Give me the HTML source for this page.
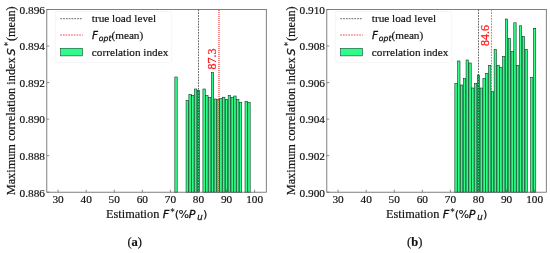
<!DOCTYPE html>
<html lang="en">
<head>
<meta charset="utf-8">
<title>Maximum correlation index vs estimation</title>
<style>
html,body{margin:0;padding:0;background:#fff;}
body{width:550px;height:253px;overflow:hidden;font-family:"Liberation Serif",serif;}
svg{display:block;}
svg text{stroke:#111;stroke-width:.18px;}
svg text.ann{stroke:#ff1a1a;stroke-width:.25px;}
</style>
</head>
<body>
<svg width="550" height="253" viewBox="0 0 550 253">
<rect x="0" y="0" width="550" height="253" fill="#fff"/>
<g>
<rect x="174.84" y="77.00" width="2.36" height="115.20" fill="#30fc8c" stroke="#002a10" stroke-width="0.55"/>
<rect x="186.06" y="100.50" width="2.36" height="91.70" fill="#30fc8c" stroke="#002a10" stroke-width="0.55"/>
<rect x="188.87" y="94.50" width="2.36" height="97.70" fill="#30fc8c" stroke="#002a10" stroke-width="0.55"/>
<rect x="191.68" y="95.50" width="2.36" height="96.70" fill="#30fc8c" stroke="#002a10" stroke-width="0.55"/>
<rect x="194.48" y="89.00" width="2.36" height="103.20" fill="#30fc8c" stroke="#002a10" stroke-width="0.55"/>
<rect x="197.29" y="90.50" width="2.36" height="101.70" fill="#30fc8c" stroke="#002a10" stroke-width="0.55"/>
<rect x="202.91" y="89.00" width="2.36" height="103.20" fill="#30fc8c" stroke="#002a10" stroke-width="0.55"/>
<rect x="205.71" y="95.50" width="2.36" height="96.70" fill="#30fc8c" stroke="#002a10" stroke-width="0.55"/>
<rect x="208.52" y="97.50" width="2.36" height="94.70" fill="#30fc8c" stroke="#002a10" stroke-width="0.55"/>
<rect x="211.33" y="72.50" width="2.36" height="119.70" fill="#30fc8c" stroke="#002a10" stroke-width="0.55"/>
<rect x="214.13" y="99.00" width="2.36" height="93.20" fill="#30fc8c" stroke="#002a10" stroke-width="0.55"/>
<rect x="216.94" y="99.50" width="2.36" height="92.70" fill="#30fc8c" stroke="#002a10" stroke-width="0.55"/>
<rect x="219.75" y="98.50" width="2.36" height="93.70" fill="#30fc8c" stroke="#002a10" stroke-width="0.55"/>
<rect x="222.55" y="97.20" width="2.36" height="95.00" fill="#30fc8c" stroke="#002a10" stroke-width="0.55"/>
<rect x="225.36" y="99.50" width="2.36" height="92.70" fill="#30fc8c" stroke="#002a10" stroke-width="0.55"/>
<rect x="228.17" y="95.50" width="2.36" height="96.70" fill="#30fc8c" stroke="#002a10" stroke-width="0.55"/>
<rect x="230.98" y="97.50" width="2.36" height="94.70" fill="#30fc8c" stroke="#002a10" stroke-width="0.55"/>
<rect x="233.78" y="96.00" width="2.36" height="96.20" fill="#30fc8c" stroke="#002a10" stroke-width="0.55"/>
<rect x="236.59" y="99.50" width="2.36" height="92.70" fill="#30fc8c" stroke="#002a10" stroke-width="0.55"/>
<rect x="239.40" y="102.50" width="2.36" height="89.70" fill="#30fc8c" stroke="#002a10" stroke-width="0.55"/>
<rect x="245.01" y="101.50" width="2.36" height="90.70" fill="#30fc8c" stroke="#002a10" stroke-width="0.55"/>
<rect x="247.82" y="102.50" width="2.36" height="89.70" fill="#30fc8c" stroke="#002a10" stroke-width="0.55"/>
<line x1="198.47" y1="9.5" x2="198.47" y2="192.2" stroke="#111" stroke-width="0.65" stroke-dasharray="1.75 1.05"/>
<line x1="219.00" y1="10" x2="219.00" y2="192.2" stroke="#f01010" stroke-width="1.0" stroke-dasharray="1 1"/>
<text transform="translate(216.40,69.50) rotate(-90)" class="ann" font-family='"Liberation Serif", serif' font-size="12" fill="#ff1a1a">87.3</text>
<rect x="46.80" y="9.5" width="219.50" height="182.70" fill="none" stroke="#606060" stroke-width="0.8"/>
<line x1="58.12" y1="192.2" x2="58.12" y2="189.7" stroke="#606060" stroke-width="0.7"/>
<text x="58.12" y="202.6" text-anchor="middle" font-family='"Liberation Serif", serif' font-size="11.3" fill="#111">30</text>
<line x1="86.19" y1="192.2" x2="86.19" y2="189.7" stroke="#606060" stroke-width="0.7"/>
<text x="86.19" y="202.6" text-anchor="middle" font-family='"Liberation Serif", serif' font-size="11.3" fill="#111">40</text>
<line x1="114.26" y1="192.2" x2="114.26" y2="189.7" stroke="#606060" stroke-width="0.7"/>
<text x="114.26" y="202.6" text-anchor="middle" font-family='"Liberation Serif", serif' font-size="11.3" fill="#111">50</text>
<line x1="142.33" y1="192.2" x2="142.33" y2="189.7" stroke="#606060" stroke-width="0.7"/>
<text x="142.33" y="202.6" text-anchor="middle" font-family='"Liberation Serif", serif' font-size="11.3" fill="#111">60</text>
<line x1="170.40" y1="192.2" x2="170.40" y2="189.7" stroke="#606060" stroke-width="0.7"/>
<text x="170.40" y="202.6" text-anchor="middle" font-family='"Liberation Serif", serif' font-size="11.3" fill="#111">70</text>
<line x1="198.47" y1="192.2" x2="198.47" y2="189.7" stroke="#606060" stroke-width="0.7"/>
<text x="198.47" y="202.6" text-anchor="middle" font-family='"Liberation Serif", serif' font-size="11.3" fill="#111">80</text>
<line x1="226.54" y1="192.2" x2="226.54" y2="189.7" stroke="#606060" stroke-width="0.7"/>
<text x="226.54" y="202.6" text-anchor="middle" font-family='"Liberation Serif", serif' font-size="11.3" fill="#111">90</text>
<line x1="254.61" y1="192.2" x2="254.61" y2="189.7" stroke="#606060" stroke-width="0.7"/>
<text x="254.61" y="202.6" text-anchor="middle" font-family='"Liberation Serif", serif' font-size="11.3" fill="#111">100</text>
<line x1="46.80" y1="192.20" x2="49.30" y2="192.20" stroke="#606060" stroke-width="0.7"/>
<text x="45.00" y="196.50" text-anchor="end" font-family='"Liberation Serif", serif' font-size="11.3" fill="#111">0.886</text>
<line x1="46.80" y1="155.66" x2="49.30" y2="155.66" stroke="#606060" stroke-width="0.7"/>
<text x="45.00" y="159.96" text-anchor="end" font-family='"Liberation Serif", serif' font-size="11.3" fill="#111">0.888</text>
<line x1="46.80" y1="119.12" x2="49.30" y2="119.12" stroke="#606060" stroke-width="0.7"/>
<text x="45.00" y="123.42" text-anchor="end" font-family='"Liberation Serif", serif' font-size="11.3" fill="#111">0.890</text>
<line x1="46.80" y1="82.58" x2="49.30" y2="82.58" stroke="#606060" stroke-width="0.7"/>
<text x="45.00" y="86.88" text-anchor="end" font-family='"Liberation Serif", serif' font-size="11.3" fill="#111">0.892</text>
<line x1="46.80" y1="46.04" x2="49.30" y2="46.04" stroke="#606060" stroke-width="0.7"/>
<text x="45.00" y="50.34" text-anchor="end" font-family='"Liberation Serif", serif' font-size="11.3" fill="#111">0.894</text>
<line x1="46.80" y1="9.50" x2="49.30" y2="9.50" stroke="#606060" stroke-width="0.7"/>
<text x="45.00" y="13.80" text-anchor="end" font-family='"Liberation Serif", serif' font-size="11.3" fill="#111">0.896</text>
<rect x="55.30" y="11.5" width="116.4" height="51.1" rx="1.5" fill="#fff" fill-opacity="0.8" stroke="#f0f0f0" stroke-width="0.7"/>
<line x1="60.30" y1="18.7" x2="82.70" y2="18.7" stroke="#111" stroke-width="0.65" stroke-dasharray="1.75 1.05"/>
<line x1="60.30" y1="35" x2="82.70" y2="35" stroke="#f01010" stroke-width="0.8" stroke-dasharray="1.6 1.1"/>
<rect x="60.50" y="48.3" width="22.1" height="7.6" fill="#30fc8c" stroke="#002a10" stroke-width="0.5"/>
<text x="91.80" y="22.0" font-family='"Liberation Serif", serif' font-size="11.25" fill="#111">true load level</text>
<text y="38.9" font-family='"Liberation Serif", serif' font-size="11.25" fill="#111"><tspan x="92.00" font-family='"DejaVu Sans", "Liberation Sans", sans-serif' font-style="italic" stroke="#111" stroke-width="0.3" font-size="10.4">F</tspan><tspan x="98.80" font-family='"DejaVu Sans", "Liberation Sans", sans-serif' font-style="italic" stroke="#111" stroke-width="0.3" stroke-width="0.2" font-size="7.7" dy="2">opt</tspan><tspan x="111.40" dy="-2">(mean)</tspan></text>
<text x="91.80" y="55.8" font-family='"Liberation Serif", serif' font-size="11.25" fill="#111">correlation index</text>
<text y="217.9" font-size="12.3" fill="#111" font-family='"Liberation Serif", serif'><tspan x="106.00">Estimation </tspan><tspan x="162.80" font-family='"DejaVu Sans", "Liberation Sans", sans-serif' font-style="italic" stroke="#111" stroke-width="0.3" font-size="11.2">F</tspan><tspan x="170.60" font-family='"DejaVu Sans", "Liberation Sans", sans-serif' stroke="#111" stroke-width="0.15" font-size="8.2" dy="-3.4">*</tspan><tspan x="174.70" font-family='"DejaVu Sans", "Liberation Sans", sans-serif' stroke="#111" stroke-width="0.15" font-size="11.2" dy="3.4">(</tspan><tspan x="178.40" font-family='"DejaVu Sans", "Liberation Sans", sans-serif' stroke="#111" stroke-width="0.15" font-size="11.2">%</tspan><tspan x="188.70" font-family='"DejaVu Sans", "Liberation Sans", sans-serif' font-style="italic" stroke="#111" stroke-width="0.3" font-size="11.2">P</tspan><tspan x="197.30" font-family='"DejaVu Sans", "Liberation Sans", sans-serif' font-style="italic" stroke="#111" stroke-width="0.3" font-size="8.6" dy="2.2">u</tspan><tspan x="203.10" font-family='"DejaVu Sans", "Liberation Sans", sans-serif' stroke="#111" stroke-width="0.15" font-size="11.2" dy="-2.2">)</tspan></text>
<text transform="translate(14.70,195.3) rotate(-90)" font-family='"Liberation Serif", serif' font-size="12.3" fill="#111"><tspan x="0">Maximum correlation index </tspan><tspan x="139.8" font-family='"DejaVu Sans", "Liberation Sans", sans-serif' font-style="italic" stroke="#111" stroke-width="0.3" font-size="11.2">S</tspan><tspan x="149.0" font-family='"DejaVu Sans", "Liberation Sans", sans-serif' stroke="#111" stroke-width="0.15" font-size="8.2" dy="-3.4">*</tspan><tspan x="154.2" dy="3.4">(mean)</tspan></text>
<text x="134.70" y="246.0" text-anchor="middle" font-family='"Liberation Serif", serif' font-size="12.5" fill="#111" stroke="#111" stroke-width="0.15">(<tspan font-weight="bold">a</tspan>)</text>
</g>
<g>
<rect x="454.84" y="83.50" width="2.36" height="108.70" fill="#30fc8c" stroke="#002a10" stroke-width="0.55"/>
<rect x="457.64" y="61.00" width="2.36" height="131.20" fill="#30fc8c" stroke="#002a10" stroke-width="0.55"/>
<rect x="460.45" y="85.00" width="2.36" height="107.20" fill="#30fc8c" stroke="#002a10" stroke-width="0.55"/>
<rect x="463.26" y="78.50" width="2.36" height="113.70" fill="#30fc8c" stroke="#002a10" stroke-width="0.55"/>
<rect x="466.06" y="60.00" width="2.36" height="132.20" fill="#30fc8c" stroke="#002a10" stroke-width="0.55"/>
<rect x="468.87" y="63.00" width="2.36" height="129.20" fill="#30fc8c" stroke="#002a10" stroke-width="0.55"/>
<rect x="471.68" y="88.00" width="2.36" height="104.20" fill="#30fc8c" stroke="#002a10" stroke-width="0.55"/>
<rect x="474.48" y="83.50" width="2.36" height="108.70" fill="#30fc8c" stroke="#002a10" stroke-width="0.55"/>
<rect x="477.29" y="75.00" width="2.36" height="117.20" fill="#30fc8c" stroke="#002a10" stroke-width="0.55"/>
<rect x="480.10" y="88.00" width="2.36" height="104.20" fill="#30fc8c" stroke="#002a10" stroke-width="0.55"/>
<rect x="482.91" y="78.50" width="2.36" height="113.70" fill="#30fc8c" stroke="#002a10" stroke-width="0.55"/>
<rect x="485.71" y="73.50" width="2.36" height="118.70" fill="#30fc8c" stroke="#002a10" stroke-width="0.55"/>
<rect x="488.52" y="65.50" width="2.36" height="126.70" fill="#30fc8c" stroke="#002a10" stroke-width="0.55"/>
<rect x="491.33" y="91.50" width="2.36" height="100.70" fill="#30fc8c" stroke="#002a10" stroke-width="0.55"/>
<rect x="494.13" y="49.50" width="2.36" height="142.70" fill="#30fc8c" stroke="#002a10" stroke-width="0.55"/>
<rect x="496.94" y="65.50" width="2.36" height="126.70" fill="#30fc8c" stroke="#002a10" stroke-width="0.55"/>
<rect x="499.75" y="67.50" width="2.36" height="124.70" fill="#30fc8c" stroke="#002a10" stroke-width="0.55"/>
<rect x="502.55" y="56.50" width="2.36" height="135.70" fill="#30fc8c" stroke="#002a10" stroke-width="0.55"/>
<rect x="505.36" y="19.00" width="2.36" height="173.20" fill="#30fc8c" stroke="#002a10" stroke-width="0.55"/>
<rect x="508.17" y="38.50" width="2.36" height="153.70" fill="#30fc8c" stroke="#002a10" stroke-width="0.55"/>
<rect x="510.98" y="51.50" width="2.36" height="140.70" fill="#30fc8c" stroke="#002a10" stroke-width="0.55"/>
<rect x="513.78" y="22.80" width="2.36" height="169.40" fill="#30fc8c" stroke="#002a10" stroke-width="0.55"/>
<rect x="516.59" y="65.50" width="2.36" height="126.70" fill="#30fc8c" stroke="#002a10" stroke-width="0.55"/>
<rect x="519.40" y="25.80" width="2.36" height="166.40" fill="#30fc8c" stroke="#002a10" stroke-width="0.55"/>
<rect x="522.20" y="36.50" width="2.36" height="155.70" fill="#30fc8c" stroke="#002a10" stroke-width="0.55"/>
<rect x="525.01" y="49.50" width="2.36" height="142.70" fill="#30fc8c" stroke="#002a10" stroke-width="0.55"/>
<rect x="530.62" y="77.50" width="2.36" height="114.70" fill="#30fc8c" stroke="#002a10" stroke-width="0.55"/>
<rect x="533.43" y="28.30" width="2.36" height="163.90" fill="#30fc8c" stroke="#002a10" stroke-width="0.55"/>
<line x1="478.47" y1="9.5" x2="478.47" y2="192.2" stroke="#111" stroke-width="0.65" stroke-dasharray="1.75 1.05"/>
<line x1="491.48" y1="9.5" x2="491.48" y2="192.2" stroke="#f01010" stroke-width="0.62" stroke-dasharray="1.75 1.05"/>
<text transform="translate(488.88,46.00) rotate(-90)" class="ann" font-family='"Liberation Serif", serif' font-size="12" fill="#ff1a1a">84.6</text>
<rect x="326.80" y="9.5" width="219.50" height="182.70" fill="none" stroke="#606060" stroke-width="0.8"/>
<line x1="338.12" y1="192.2" x2="338.12" y2="189.7" stroke="#606060" stroke-width="0.7"/>
<text x="338.12" y="202.6" text-anchor="middle" font-family='"Liberation Serif", serif' font-size="11.3" fill="#111">30</text>
<line x1="366.19" y1="192.2" x2="366.19" y2="189.7" stroke="#606060" stroke-width="0.7"/>
<text x="366.19" y="202.6" text-anchor="middle" font-family='"Liberation Serif", serif' font-size="11.3" fill="#111">40</text>
<line x1="394.26" y1="192.2" x2="394.26" y2="189.7" stroke="#606060" stroke-width="0.7"/>
<text x="394.26" y="202.6" text-anchor="middle" font-family='"Liberation Serif", serif' font-size="11.3" fill="#111">50</text>
<line x1="422.33" y1="192.2" x2="422.33" y2="189.7" stroke="#606060" stroke-width="0.7"/>
<text x="422.33" y="202.6" text-anchor="middle" font-family='"Liberation Serif", serif' font-size="11.3" fill="#111">60</text>
<line x1="450.40" y1="192.2" x2="450.40" y2="189.7" stroke="#606060" stroke-width="0.7"/>
<text x="450.40" y="202.6" text-anchor="middle" font-family='"Liberation Serif", serif' font-size="11.3" fill="#111">70</text>
<line x1="478.47" y1="192.2" x2="478.47" y2="189.7" stroke="#606060" stroke-width="0.7"/>
<text x="478.47" y="202.6" text-anchor="middle" font-family='"Liberation Serif", serif' font-size="11.3" fill="#111">80</text>
<line x1="506.54" y1="192.2" x2="506.54" y2="189.7" stroke="#606060" stroke-width="0.7"/>
<text x="506.54" y="202.6" text-anchor="middle" font-family='"Liberation Serif", serif' font-size="11.3" fill="#111">90</text>
<line x1="534.61" y1="192.2" x2="534.61" y2="189.7" stroke="#606060" stroke-width="0.7"/>
<text x="534.61" y="202.6" text-anchor="middle" font-family='"Liberation Serif", serif' font-size="11.3" fill="#111">100</text>
<line x1="326.80" y1="192.20" x2="329.30" y2="192.20" stroke="#606060" stroke-width="0.7"/>
<text x="325.00" y="196.50" text-anchor="end" font-family='"Liberation Serif", serif' font-size="11.3" fill="#111">0.900</text>
<line x1="326.80" y1="155.66" x2="329.30" y2="155.66" stroke="#606060" stroke-width="0.7"/>
<text x="325.00" y="159.96" text-anchor="end" font-family='"Liberation Serif", serif' font-size="11.3" fill="#111">0.902</text>
<line x1="326.80" y1="119.12" x2="329.30" y2="119.12" stroke="#606060" stroke-width="0.7"/>
<text x="325.00" y="123.42" text-anchor="end" font-family='"Liberation Serif", serif' font-size="11.3" fill="#111">0.904</text>
<line x1="326.80" y1="82.58" x2="329.30" y2="82.58" stroke="#606060" stroke-width="0.7"/>
<text x="325.00" y="86.88" text-anchor="end" font-family='"Liberation Serif", serif' font-size="11.3" fill="#111">0.906</text>
<line x1="326.80" y1="46.04" x2="329.30" y2="46.04" stroke="#606060" stroke-width="0.7"/>
<text x="325.00" y="50.34" text-anchor="end" font-family='"Liberation Serif", serif' font-size="11.3" fill="#111">0.908</text>
<line x1="326.80" y1="9.50" x2="329.30" y2="9.50" stroke="#606060" stroke-width="0.7"/>
<text x="325.00" y="13.80" text-anchor="end" font-family='"Liberation Serif", serif' font-size="11.3" fill="#111">0.910</text>
<rect x="335.30" y="11.5" width="116.4" height="51.1" rx="1.5" fill="#fff" fill-opacity="0.8" stroke="#f0f0f0" stroke-width="0.7"/>
<line x1="340.30" y1="18.7" x2="362.70" y2="18.7" stroke="#111" stroke-width="0.65" stroke-dasharray="1.75 1.05"/>
<line x1="340.30" y1="35" x2="362.70" y2="35" stroke="#f01010" stroke-width="0.8" stroke-dasharray="1.6 1.1"/>
<rect x="340.50" y="48.3" width="22.1" height="7.6" fill="#30fc8c" stroke="#002a10" stroke-width="0.5"/>
<text x="371.80" y="22.0" font-family='"Liberation Serif", serif' font-size="11.25" fill="#111">true load level</text>
<text y="38.9" font-family='"Liberation Serif", serif' font-size="11.25" fill="#111"><tspan x="372.00" font-family='"DejaVu Sans", "Liberation Sans", sans-serif' font-style="italic" stroke="#111" stroke-width="0.3" font-size="10.4">F</tspan><tspan x="378.80" font-family='"DejaVu Sans", "Liberation Sans", sans-serif' font-style="italic" stroke="#111" stroke-width="0.3" stroke-width="0.2" font-size="7.7" dy="2">opt</tspan><tspan x="391.40" dy="-2">(mean)</tspan></text>
<text x="371.80" y="55.8" font-family='"Liberation Serif", serif' font-size="11.25" fill="#111">correlation index</text>
<text y="217.9" font-size="12.3" fill="#111" font-family='"Liberation Serif", serif'><tspan x="386.00">Estimation </tspan><tspan x="442.80" font-family='"DejaVu Sans", "Liberation Sans", sans-serif' font-style="italic" stroke="#111" stroke-width="0.3" font-size="11.2">F</tspan><tspan x="450.60" font-family='"DejaVu Sans", "Liberation Sans", sans-serif' stroke="#111" stroke-width="0.15" font-size="8.2" dy="-3.4">*</tspan><tspan x="454.70" font-family='"DejaVu Sans", "Liberation Sans", sans-serif' stroke="#111" stroke-width="0.15" font-size="11.2" dy="3.4">(</tspan><tspan x="458.40" font-family='"DejaVu Sans", "Liberation Sans", sans-serif' stroke="#111" stroke-width="0.15" font-size="11.2">%</tspan><tspan x="468.70" font-family='"DejaVu Sans", "Liberation Sans", sans-serif' font-style="italic" stroke="#111" stroke-width="0.3" font-size="11.2">P</tspan><tspan x="477.30" font-family='"DejaVu Sans", "Liberation Sans", sans-serif' font-style="italic" stroke="#111" stroke-width="0.3" font-size="8.6" dy="2.2">u</tspan><tspan x="483.10" font-family='"DejaVu Sans", "Liberation Sans", sans-serif' stroke="#111" stroke-width="0.15" font-size="11.2" dy="-2.2">)</tspan></text>
<text transform="translate(294.70,195.3) rotate(-90)" font-family='"Liberation Serif", serif' font-size="12.3" fill="#111"><tspan x="0">Maximum correlation index </tspan><tspan x="139.8" font-family='"DejaVu Sans", "Liberation Sans", sans-serif' font-style="italic" stroke="#111" stroke-width="0.3" font-size="11.2">S</tspan><tspan x="149.0" font-family='"DejaVu Sans", "Liberation Sans", sans-serif' stroke="#111" stroke-width="0.15" font-size="8.2" dy="-3.4">*</tspan><tspan x="154.2" dy="3.4">(mean)</tspan></text>
<text x="414.70" y="246.0" text-anchor="middle" font-family='"Liberation Serif", serif' font-size="12.5" fill="#111" stroke="#111" stroke-width="0.15">(<tspan font-weight="bold">b</tspan>)</text>
</g>
</svg>
</body>
</html>
